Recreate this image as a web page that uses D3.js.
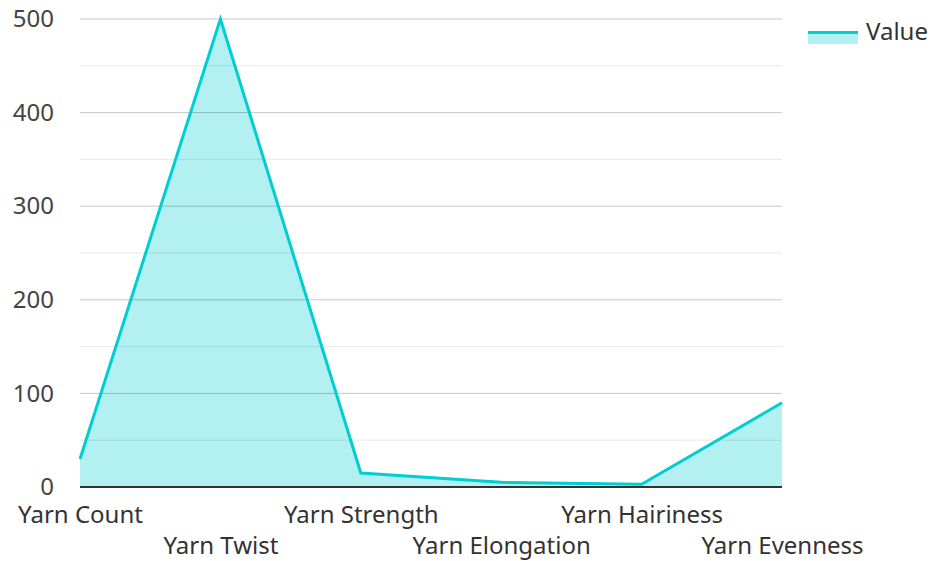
<!DOCTYPE html>
<html>
<head>
<meta charset="utf-8">
<script src="https://cdn.jsdelivr.net/npm/d3@7"></script>
<style>
  html, body { margin: 0; padding: 0; background: #fff; }
  svg { display: block; font-family: "Noto Sans", "Open Sans", sans-serif; }
</style>
</head>
<body>
<svg id="chart" width="932" height="561"></svg>
<script>
// Yarn quality measurements
const categories = ["Yarn Count", "Yarn Twist", "Yarn Strength", "Yarn Elongation", "Yarn Hairiness", "Yarn Evenness"];
const values = [30, 500, 15, 5, 3, 90];
const yTicks = [0, 100, 200, 300, 400, 500];
const yMinorTicks = [50, 150, 250, 350, 450];
const seriesName = "Value";

const svg = d3.select("#chart");
const margin = { left: 80, right: 150, top: 19, bottom: 74 };
const W = 932, H = 561;
const stroke = "#00CED1";
const fill = "rgba(0,206,209,0.3)";
const fontSize = 24;

const x = d3.scalePoint().domain(categories).range([margin.left, W - margin.right]);
const y = d3.scaleLinear().domain([0, 500]).range([H - margin.bottom, margin.top]);

const data = categories.map((c, i) => ({ c, v: values[i] }));

// area fill
svg.append("path")
  .datum(data)
  .attr("fill", fill)
  .attr("d", d3.area().x(d => x(d.c)).y0(y(0)).y1(d => y(d.v)));

// gridlines (drawn over the fill)
svg.append("g").selectAll("line").data(yMinorTicks).join("line")
  .attr("x1", margin.left).attr("x2", W - margin.right)
  .attr("y1", d => y(d)).attr("y2", d => y(d))
  .attr("stroke", "rgba(0,0,0,0.09)").attr("stroke-width", 1);
svg.append("g").selectAll("line").data(yTicks.filter(t => t > 0)).join("line")
  .attr("x1", margin.left).attr("x2", W - margin.right)
  .attr("y1", d => y(d)).attr("y2", d => y(d))
  .attr("stroke", "rgba(0,0,0,0.22)").attr("stroke-width", 1);

// line
svg.append("path")
  .datum(data)
  .attr("fill", "none")
  .attr("stroke", stroke)
  .attr("stroke-width", 3)
  .attr("stroke-linejoin", "miter")
  .attr("d", d3.line().x(d => x(d.c)).y(d => y(d.v)));

// baseline
svg.append("line")
  .attr("x1", margin.left).attr("x2", W - margin.right)
  .attr("y1", y(0)).attr("y2", y(0))
  .attr("stroke", "#333").attr("stroke-width", 2);

// y axis labels
const yAxis = d3.axisLeft(y).tickValues(yTicks).tickSize(0).tickPadding(26);
const gy = svg.append("g").attr("transform", `translate(${margin.left},0)`).call(yAxis);
gy.select(".domain").remove();
gy.selectAll("text").attr("font-size", fontSize).attr("fill", "#444")
  .attr("font-family", "\"Noto Sans\", sans-serif");

// x axis labels, staggered on two rows
const xAxis = d3.axisBottom(x).tickSize(0).tickPadding(0);
const gx = svg.append("g").attr("transform", `translate(0,${y(0)})`).call(xAxis);
gx.select(".domain").remove();
gx.selectAll("text")
  .attr("font-size", fontSize).attr("fill", "#333")
  .attr("font-family", "\"Noto Sans\", sans-serif")
  .attr("dy", null)
  .attr("y", (d, i) => i % 2 === 0 ? 36 : 67);

// legend
const lg = svg.append("g").attr("transform", "translate(808,31)");
lg.append("rect").attr("x", 0).attr("y", 0).attr("width", 50).attr("height", 13).attr("fill", fill);
lg.append("line").attr("x1", 0).attr("x2", 50).attr("y1", 1.5).attr("y2", 1.5)
  .attr("stroke", stroke).attr("stroke-width", 3);
lg.append("text").attr("x", 58).attr("y", 9).attr("font-size", fontSize).attr("fill", "#333")
  .text(seriesName);
</script>
</body>
</html>
